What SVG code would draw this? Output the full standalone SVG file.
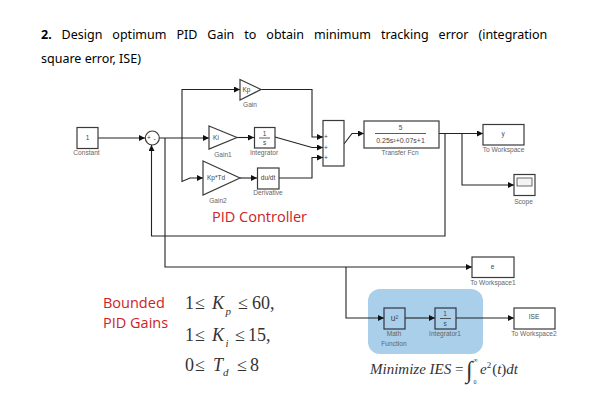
<svg xmlns="http://www.w3.org/2000/svg" width="593" height="414" viewBox="0 0 593 414">
<style>
.b{fill:#fff;stroke:#3a3a3a;stroke-width:1.2}
.c{fill:none;stroke:#222;stroke-width:1.1}
.t{font-family:"Liberation Sans",Arial,sans-serif;fill:#666;font-size:6.6px;text-anchor:middle}
.i{font-family:"Liberation Sans",Arial,sans-serif;fill:#444;font-size:6.5px;text-anchor:middle}
.h{font-family:"Noto Sans","DejaVu Sans",sans-serif;fill:#000;font-size:12.5px}
.r{font-family:"Open Sans","Noto Sans",sans-serif;fill:#cc2229;font-size:14.500px}
.m{font-family:"Liberation Serif","Times New Roman",serif;fill:#333;font-size:18px}
.o{font-family:"Liberation Serif","Times New Roman",serif;fill:#333;font-size:15px}
.mi{font-style:italic}
</style>
<defs>
<marker id="a" markerUnits="userSpaceOnUse" markerWidth="8" markerHeight="8" refX="6" refY="3" orient="auto"><path d="M0 0L6 3L0 6Z" fill="#111"/></marker>
</defs>
<rect width="593" height="414" fill="#fff"/>
<g id="heading">
<text class="h" x="41" y="38.500" word-spacing="6.7"><tspan font-weight="700">2.</tspan> Design optimum PID Gain to obtain minimum tracking error (integration</text>
<text class="h" x="41" y="63">square error, ISE)</text>
</g>
<g id="highlight"><rect x="368" y="289" width="115" height="65" rx="12" fill="#a9cfeb"/></g>
<g id="connectors">
<path class="c" marker-end="url(#a)" d="M98 138H145"/>
<path class="c" marker-end="url(#a)" d="M159 138H209"/>
<path class="c" marker-end="url(#a)" d="M182 138V89.500H240"/>
<path class="c" marker-end="url(#a)" d="M182 138V181.500L190 178H203"/>
<path class="c" marker-end="url(#a)" d="M237 137.500H254"/>
<path class="c" marker-end="url(#a)" d="M240 178H257"/>
<path class="c" marker-end="url(#a)" d="M261 89.500H312V137H323"/>
<path class="c" marker-end="url(#a)" d="M275 137L312 147.500H323"/>
<path class="c" marker-end="url(#a)" d="M279 178H312V157.500H323"/>
<path class="c" marker-end="url(#a)" d="M344 144L352 133.500H364"/>
<path class="c" marker-end="url(#a)" d="M439 133.500H483"/>
<path class="c" marker-end="url(#a)" d="M462 133.500V185H514"/>
<path class="c" marker-end="url(#a)" d="M445 133.500V236H151.500V145"/>
<path class="c" marker-end="url(#a)" d="M165 138V267H472"/>
<path class="c" marker-end="url(#a)" d="M346 267V318H384"/>
<path class="c" marker-end="url(#a)" d="M405 318H435"/>
<path class="c" marker-end="url(#a)" d="M456 318H514"/>
</g>
<g id="constant"><rect class="b" x="77" y="127.500" width="21" height="21"/><text class="i" x="87.500" y="140">1</text><text class="t" x="86.500" y="155">Constant</text></g>
<g id="sum"><circle class="b" cx="152.300" cy="138" r="7"/><text class="i" x="149" y="140">+</text><text class="i" x="154.500" y="140.500">-</text></g>
<g id="gain"><path class="b" d="M240 79.500L261 89.500L240 100Z"/><text class="i" x="246.500" y="92">Kp</text><text class="t" x="250" y="107">Gain</text></g>
<g id="gain1"><path class="b" d="M209 126L237 137.500L209 149Z"/><text class="i" x="216" y="139.500">Ki</text><text class="t" x="223" y="157">Gain1</text></g>
<g id="integrator"><rect class="b" x="254.500" y="127.500" width="20.500" height="20.500"/><text class="i" x="264.500" y="135.500">1</text><path d="M259 138H270" stroke="#333" stroke-width=".8"/><text class="i" x="264.500" y="145">s</text><text class="t" x="264" y="155">Integrator</text></g>
<g id="gain2"><path class="b" d="M203 161L240 178L203 195Z"/><text class="i" x="216" y="180">Kp*Td</text><text class="t" x="218" y="203">Gain2</text></g>
<g id="derivative"><rect class="b" x="257.500" y="168" width="21.500" height="21"/><text class="i" x="268" y="180">du/dt</text><text class="t" x="268" y="195">Derivative</text></g>
<g id="mux"><rect class="b" x="323" y="120.500" width="21" height="45.500"/><text class="i" x="326" y="139">+</text><text class="i" x="326" y="149.500">+</text><text class="i" x="326" y="159.500">+</text></g>
<g id="pid-label"><text class="r" x="212" y="222">PID Controller</text></g>
<g id="transfer"><rect class="b" x="364" y="121" width="75" height="27"/><text class="i" x="400.500" y="130">5</text><path d="M375 133.500H426" stroke="#333" stroke-width=".8"/><text class="i" x="400.500" y="143" style="font-size:7px">0.25s²+0.07s+1</text><text class="t" x="400" y="155">Transfer Fcn</text></g>
<g id="to-workspace"><rect class="b" x="483" y="124.500" width="41" height="20.500"/><text class="i" x="503" y="136">y</text><text class="t" x="503.500" y="152">To Workspace</text></g>
<g id="scope"><rect class="b" x="514" y="174.500" width="21" height="21"/><rect x="517" y="178" width="15" height="8" fill="#f4f4f4" stroke="#444" stroke-width=".8"/><text class="t" x="523.500" y="204">Scope</text></g>
<g id="to-workspace1"><rect class="b" x="472" y="257" width="42" height="20.500"/><text class="i" x="492.500" y="269">e</text><text class="t" x="493" y="284.500">To Workspace1</text></g>
<g id="bounded-label"><text class="r" x="103" y="308">Bounded</text><text class="r" x="103" y="328">PID Gains</text></g>
<g id="bounds">
<text class="m" x="185" y="309">1<tspan x="195">≤</tspan><tspan class="mi" x="212">K</tspan><tspan class="mi" font-size="11" x="225.500" dy="6">p</tspan><tspan x="238" dy="-6">≤</tspan><tspan x="252">60,</tspan></text>
<text class="m" x="185" y="341">1<tspan x="195">≤</tspan><tspan class="mi" x="212">K</tspan><tspan class="mi" font-size="11" x="225.500" dy="6">i</tspan><tspan x="235" dy="-6">≤</tspan><tspan x="248">15,</tspan></text>
<text class="m" x="185" y="371">0<tspan x="195">≤</tspan><tspan class="mi" x="213">T</tspan><tspan class="mi" font-size="11" x="223" dy="5">d</tspan><tspan x="237" dy="-5">≤</tspan><tspan x="250">8</tspan></text>
</g>
<g id="math"><rect x="384" y="308" width="21" height="21" fill="#a9cfeb" stroke="#334" stroke-width="1.2"/><text class="i" x="394.500" y="321" style="font-size:8.500px">u²</text><text class="t" x="394" y="336">Math</text><text class="t" x="394" y="346">Function</text></g>
<g id="integrator1"><rect x="435" y="308" width="21" height="21" fill="#a9cfeb" stroke="#334" stroke-width="1.2"/><text class="i" x="445" y="315.500">1</text><path d="M440 318.500H451" stroke="#333" stroke-width=".8"/><text class="i" x="445" y="325.500">s</text><text class="t" x="445" y="336">Integrator1</text></g>
<g id="to-workspace2"><rect class="b" x="514" y="308" width="41" height="21"/><text class="i" x="534" y="319">ISE</text><text class="t" x="534" y="336">To Workspace2</text></g>
<g id="objective">
<text class="o mi" x="370" y="374">Minimize IES</text>
<text class="o" x="455" y="374">=</text>
<text class="o" x="466" y="378" style="font-size:24px">∫</text>
<text class="o" x="473.500" y="362" style="font-size:6px">∞</text>
<text class="o" x="473.500" y="384" style="font-size:6px">0</text>
<text class="o" x="480" y="374"><tspan class="mi">e</tspan><tspan font-size="9" dy="-6">2</tspan><tspan dy="6" dx="1">(</tspan><tspan class="mi">t</tspan>)<tspan class="mi">dt</tspan></text>
</g>
</svg>
